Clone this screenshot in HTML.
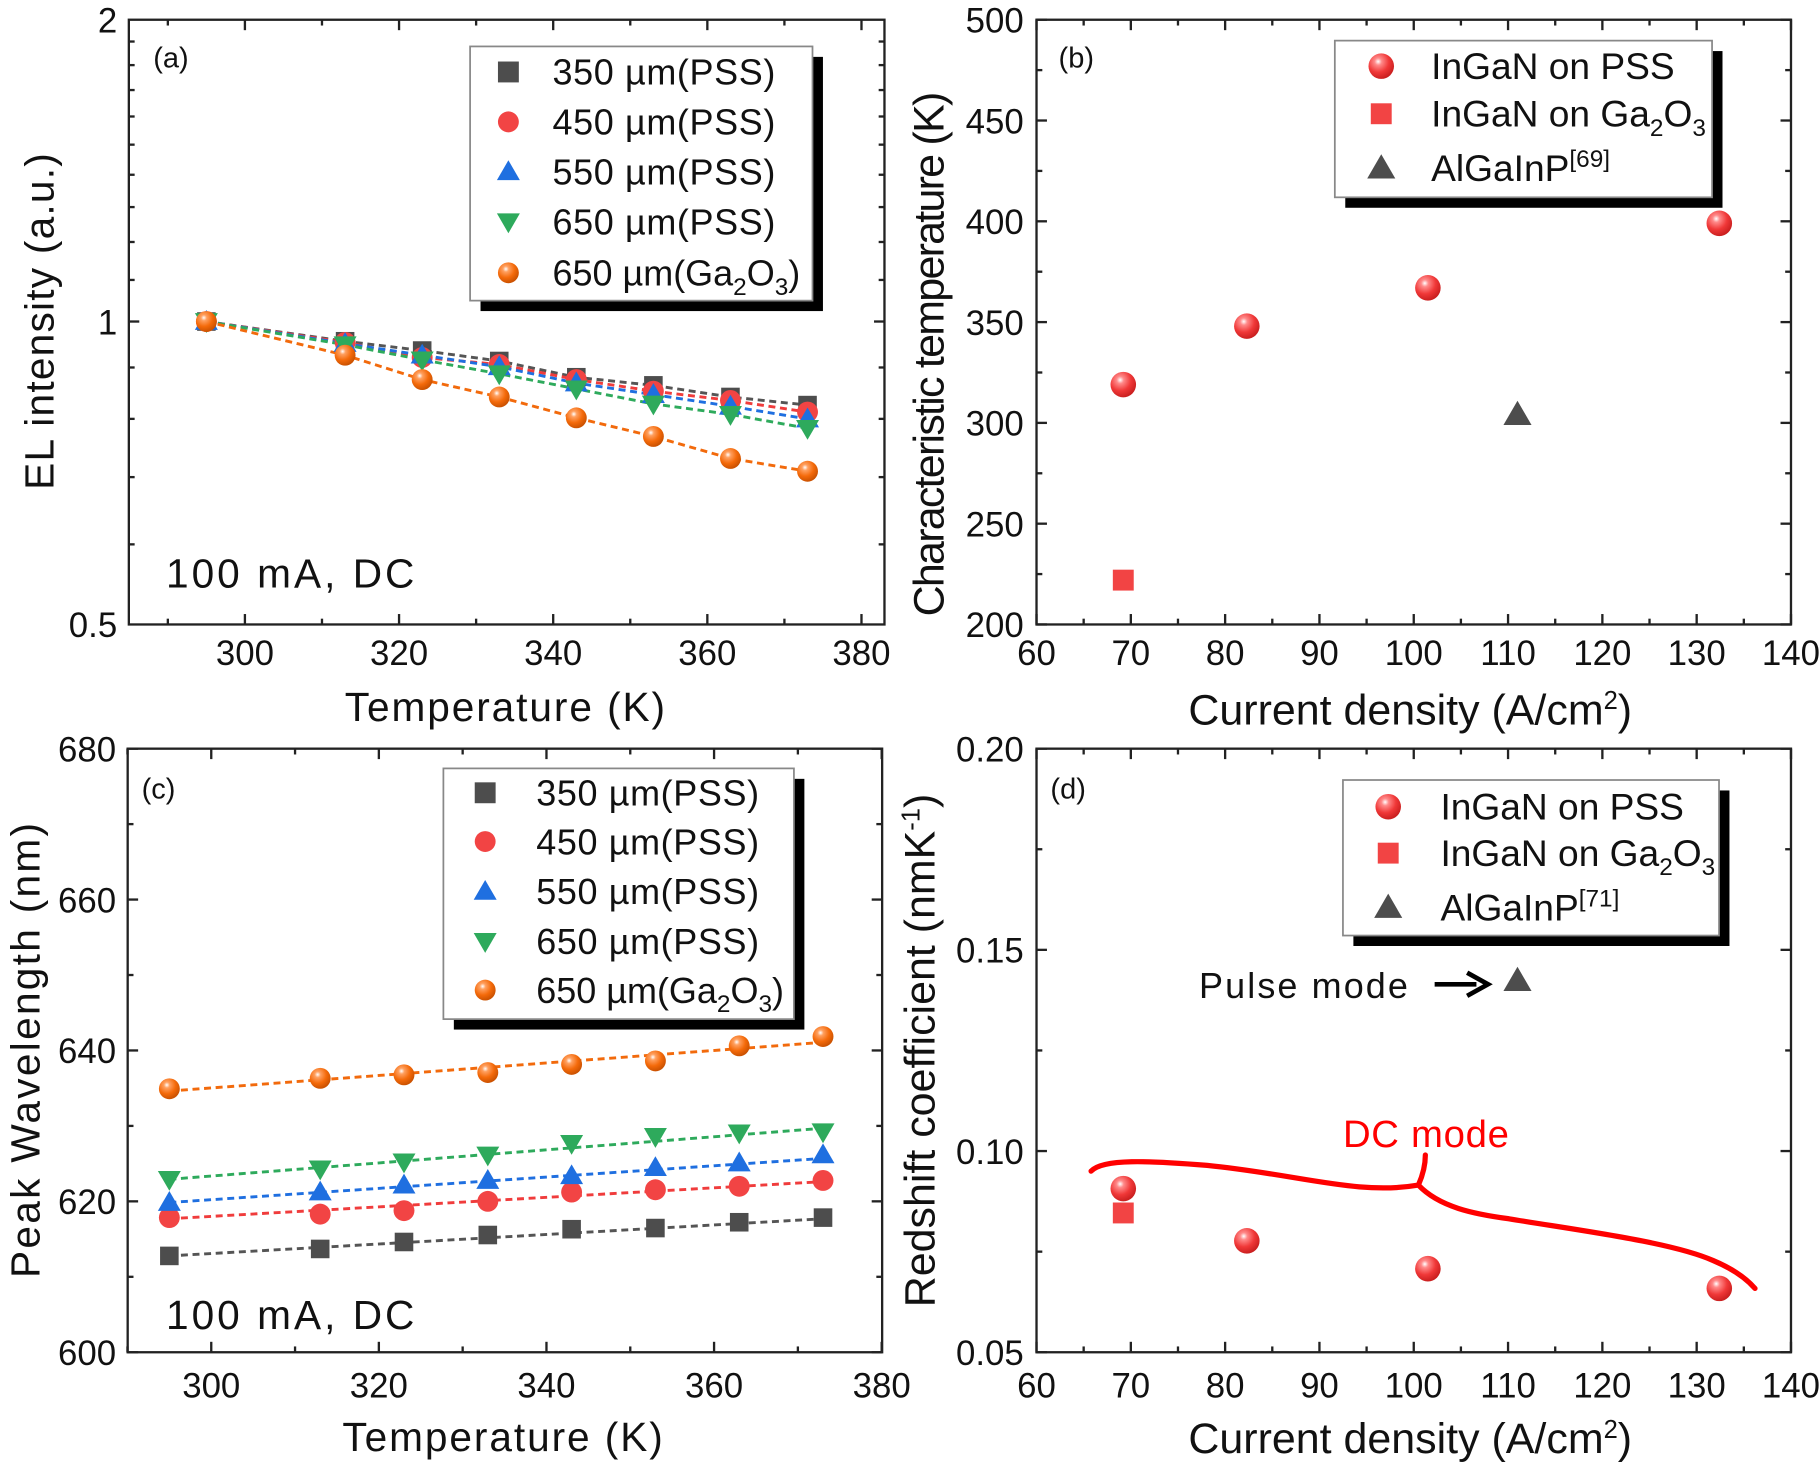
<!DOCTYPE html>
<html><head><meta charset="utf-8"><style>
html,body{margin:0;padding:0;background:#fff;}
svg{display:block;}
text{font-family:"Liberation Sans",Arial,sans-serif;fill:#111;}
</style></head><body>
<svg id="s" width="1820" height="1466" viewBox="0 0 1568 1263" preserveAspectRatio="none" xmlns="http://www.w3.org/2000/svg">
<defs>
<radialGradient id="gr" cx="0.38" cy="0.32" r="0.7"><stop offset="0" stop-color="#fff"/><stop offset="0.2" stop-color="#ff8a8a"/><stop offset="0.6" stop-color="#f03838"/><stop offset="1" stop-color="#c81e1e"/></radialGradient>
<radialGradient id="go" cx="0.38" cy="0.32" r="0.7"><stop offset="0" stop-color="#fff"/><stop offset="0.2" stop-color="#ffa060"/><stop offset="0.6" stop-color="#f46a0a"/><stop offset="1" stop-color="#c85000"/></radialGradient>
</defs>
<g id="g"></g>
</svg>
<script>
var g=document.getElementById('g'),h='';
function t(x,y,s,fs,anc,extra){h+='<text x="'+x+'" y="'+y+'" font-size="'+fs+'" text-anchor="'+(anc||'start')+'" '+(extra||'')+'>'+s+'</text>';}
function ln(x1,y1,x2,y2,c,w,d){h+='<line x1="'+x1+'" y1="'+y1+'" x2="'+x2+'" y2="'+y2+'" stroke="'+c+'" stroke-width="'+(w||2)+'"'+(d?' stroke-dasharray="'+d+'"':'')+'/>';}
function mk(type,x,y,r){
 if(type=='sq')h+='<rect x="'+(x-r)+'" y="'+(y-r)+'" width="'+2*r+'" height="'+2*r+'" fill="#4d4d4d"/>';
 if(type=='rsq')h+='<rect x="'+(x-r)+'" y="'+(y-r)+'" width="'+2*r+'" height="'+2*r+'" fill="#f24444"/>';
 if(type=='ci')h+='<circle cx="'+x+'" cy="'+y+'" r="'+r+'" fill="#f24444"/>';
 if(type=='sph')h+='<circle cx="'+x+'" cy="'+y+'" r="'+r+'" fill="url(#gr)"/>';
 if(type=='osph')h+='<circle cx="'+x+'" cy="'+y+'" r="'+r+'" fill="url(#go)"/>';
 if(type=='up')h+='<polygon points="'+x+','+(y-r*1.1)+' '+(x+r*1.1)+','+(y+r*0.8)+' '+(x-r*1.1)+','+(y+r*0.8)+'" fill="#1f6fe0"/>';
 if(type=='gup')h+='<polygon points="'+x+','+(y-r*1.1)+' '+(x+r*1.1)+','+(y+r*0.8)+' '+(x-r*1.1)+','+(y+r*0.8)+'" fill="#4d4d4d"/>';
 if(type=='dn')h+='<polygon points="'+x+','+(y+r*1.1)+' '+(x+r*1.1)+','+(y-r*0.8)+' '+(x-r*1.1)+','+(y-r*0.8)+'" fill="#2eaa5c"/>';
}
function box(x0,y0,x1,y1){h+='<rect x="'+x0+'" y="'+y0+'" width="'+(x1-x0)+'" height="'+(y1-y0)+'" fill="none" stroke="#222" stroke-width="2"/>';}
function xt(x0,x1,y0,y1,xs){xs.forEach(function(a){var L=a[1]?9:5;ln(a[0],y1,a[0],y1-L,'#222',2);ln(a[0],y0,a[0],y0+L,'#222',2);});}
function yt(x0,x1,ys){ys.forEach(function(a){var L=a[1]?9:5;ln(x0,a[0],x0+L,a[0],'#222',2);ln(x1,a[0],x1-L,a[0],'#222',2);});}
function legend(x0,y0,x1,y1){h+='<rect x="'+(x0+9)+'" y="'+(y0+9)+'" width="'+(x1-x0)+'" height="'+(y1-y0)+'" fill="#000"/><rect x="'+x0+'" y="'+y0+'" width="'+(x1-x0)+'" height="'+(y1-y0)+'" fill="#fff" stroke="#888" stroke-width="1.5"/>';}
var T=[295,313,323,333,343,353,363,373];
var sub='<tspan font-size="21" dy="8">2</tspan><tspan dy="-8">O</tspan><tspan font-size="21" dy="8">3</tspan><tspan dy="-8">)</tspan>';
var subd='<tspan font-size="21" dy="8">2</tspan><tspan dy="-8">O</tspan><tspan font-size="21" dy="8">3</tspan>';
// ===== (a)
var ax=function(T){return 211+(T-300)*6.64;}, ay=function(v){return 277-Math.log2(v)*260.5;};
box(111,17,762,538);
var xs=[];for(var v=290;v<=380;v+=10)xs.push([ax(v),v%20==0]);xt(111,762,17,538,xs);
var ys=[];[0.6,0.7,0.8,0.9,1.1,1.2,1.3,1.4,1.5,1.6,1.7,1.8,1.9].forEach(function(v){ys.push([ay(v),false]);});ys.push([ay(1),true]);yt(111,762,ys);
for(v=300;v<=380;v+=20)t(ax(v),573,v,30,'middle');
t(101,28,'2',30,'end');t(101,288,'1',30,'end');t(101,549,'0.5',30,'end');
t(435,621,'Temperature (K)',35,'middle','textLength="276"');
t(46,277,'EL intensity (a.u.)',35,'middle','transform="rotate(-90 46 277)" textLength="290"');
t(132,58,'(a)',25);t(143,506,'100 mA, DC',35,'start','textLength="214"');
var A=[[277,294,302,311,325,332,342,349,'#555','sq',8],[277,295,308,314,327,337,345,355,'#f03c3c','ci',9],[277,296,306,316,330,340,350,361,'#1f6fe0','up',9],[277,297,310,322,335,348,357,369,'#2eaa5c','dn',9],[277,306,327,342,360,376,395,406,'#f26a0c','osph',9]];
A.forEach(function(s){var p='';for(var i=0;i<8;i++)p+=(i?'L':'M')+ax(T[i])+' '+s[i];h+='<path d="'+p+'" fill="none" stroke="'+s[8]+'" stroke-width="2.5" stroke-dasharray="6,4"/>';});
A.forEach(function(s){for(var i=0;i<8;i++)mk(s[9],ax(T[i]),s[i],s[10]);});
legend(405,40,700,259);
var lab=['350 µm(PSS)','450 µm(PSS)','550 µm(PSS)','650 µm(PSS)','650 µm(Ga'+sub];
var mt=['sq','ci','up','dn','osph'];
[62,105,148,191,235].forEach(function(y,i){mk(mt[i],438,y,9);t(476,y+11,lab[i],31,'start',i<4?'textLength="192"':'');});
// ===== (c)
var cx=function(T){return 182+(T-300)*7.22;}, cy=function(v){return 1165-(v-600)*6.5;};
box(110,645,760,1165);
xs=[];for(v=290;v<=380;v+=10)xs.push([cx(v),v%20==0]);xt(110,760,645,1165,xs);
ys=[];for(v=600;v<=680;v+=10)ys.push([cy(v),v%20==0]);yt(110,760,ys);
for(v=300;v<=380;v+=20)t(cx(v),1204,v,30,'middle');
for(v=600;v<=680;v+=20)t(100,cy(v)+11,v,30,'end');
t(433,1250,'Temperature (K)',35,'middle','textLength="276"');
t(34,905,'Peak Wavelength (nm)',35,'middle','transform="rotate(-90 34 905)" textLength="392"');
t(122,688,'(c)',25);t(143,1145,'100 mA, DC',35,'start','textLength="214"');
var C=[[1082,1076,1070,1064,1059,1058,1053,1049,1082,1050,'#555','sq',8],[1049,1046,1043,1035,1027,1025,1022,1017,1050,1018,'#f03c3c','ci',9],[1036,1027,1021,1017,1013,1006,1002,995,1036,998,'#1f6fe0','up',9],[1016,1007,1001,995,985,979,976,975,1016,972,'#2eaa5c','dn',9],[938,929,926,924,917,914,901,893,940,898,'#f26a0c','osph',9]];
C.forEach(function(s){ln(cx(295),s[8],cx(373),s[9],s[10],2.5,'6,4');});
C.forEach(function(s){for(var i=0;i<8;i++)mk(s[11],cx(T[i]),s[i],s[12]);});
legend(382,662,684,878);
[683,725,768,811,853].forEach(function(y,i){mk(mt[i],418,y,9);t(462,y+11,lab[i],31,'start',i<4?'textLength="192"':'');});
// ===== (b)
var bx=function(v){return 893+(v-60)*8.125;}, by=function(v){return 538-(v-200)*1.7367;};
box(893,17,1543,538);
xs=[];for(v=60;v<=140;v+=5)xs.push([bx(v),v%10==0]);xt(893,1543,17,538,xs);
ys=[];for(v=200;v<=500;v+=25)ys.push([by(v),v%50==0]);yt(893,1543,ys);
for(v=60;v<=140;v+=10)t(bx(v),573,v,30,'middle');
for(v=200;v<=500;v+=50)t(882,by(v)+11,v,30,'end');
t(1215,624,'Current density (A/cm<tspan font-size="22" dy="-13">2</tspan><tspan dy="13">)</tspan>',37,'middle');
t(813,305,'Characteristic temperature (K)',37,'middle','transform="rotate(-90 813 305)" textLength="452"');
t(912,58,'(b)',25);
[[69.2,319],[82.3,348],[101.5,367],[132.4,399]].forEach(function(p){mk('sph',bx(p[0]),by(p[1]),11);});
mk('rsq',bx(69.2),by(222),9);mk('gup',bx(111),by(304),11);
legend(1150,35,1475,170);
mk('sph',1190,57,11);t(1233,68,'InGaN on PSS',32);
mk('rsq',1190,98,9);t(1233,109,'InGaN on Ga'+subd,32);
mk('gup',1190,145,11);t(1233,156,'AlGaInP<tspan font-size="21" dy="-12">[69]</tspan>',32);
// ===== (d)
var dy=function(v){return 1165-(v-0.05)*3467;};
box(893,645,1543,1165);
xs=[];for(v=60;v<=140;v+=5)xs.push([bx(v),v%10==0]);xt(893,1543,645,1165,xs);
ys=[];for(v=0;v<=6;v++)ys.push([1165-v*86.67,v%2==0]);yt(893,1543,ys);
for(v=60;v<=140;v+=10)t(bx(v),1204,v,30,'middle');
['0.05','0.10','0.15','0.20'].forEach(function(s,i){t(882,1165-i*173.3+11,s,30,'end');});
t(1215,1252,'Current density (A/cm<tspan font-size="22" dy="-13">2</tspan><tspan dy="13">)</tspan>',37,'middle');
t(805,905,'Redshift coefficient (nmK<tspan font-size="22" dy="-13">-1</tspan><tspan dy="13">)</tspan>',37,'middle','transform="rotate(-90 805 905)"');
t(905,688,'(d)',25);
[[69.2,1024],[82.3,1069],[101.5,1093],[132.4,1110]].forEach(function(p){mk('sph',bx(p[0]),p[1],11);});
mk('rsq',bx(69.2),1045,9);mk('gup',bx(111),845,11);
legend(1157,672,1481,806);
mk('sph',1196,695,11);t(1241,706,'InGaN on PSS',32);
mk('rsq',1196,735,9);t(1241,746,'InGaN on Ga'+subd,32);
mk('gup',1196,782,11);t(1241,793,'AlGaInP<tspan font-size="21" dy="-12">[71]</tspan>',32);
t(1033,860,'Pulse mode',31,'start','textLength="180"');
h+='<line x1="1236" y1="848" x2="1272" y2="848" stroke="#000" stroke-width="4"/><path d="M1264 838 L1282 848 L1264 858" fill="none" stroke="#000" stroke-width="4"/>';
h+='<text x="1157" y="988" font-size="33" textLength="143" style="fill:#f00">DC mode</text>';
h+='<path d="M940 1009 C950 998 990 1000 1040 1004 C1120 1012 1170 1030 1222 1021 C1226 1012 1228 1003 1228 995 M1222 1021 C1240 1040 1270 1046 1300 1050 C1360 1060 1440 1070 1476 1086 C1495 1094 1505 1102 1512 1110" fill="none" stroke="#f00" stroke-width="4.5" stroke-linecap="round"/>';
g.innerHTML=h;
</script>
</body></html>
